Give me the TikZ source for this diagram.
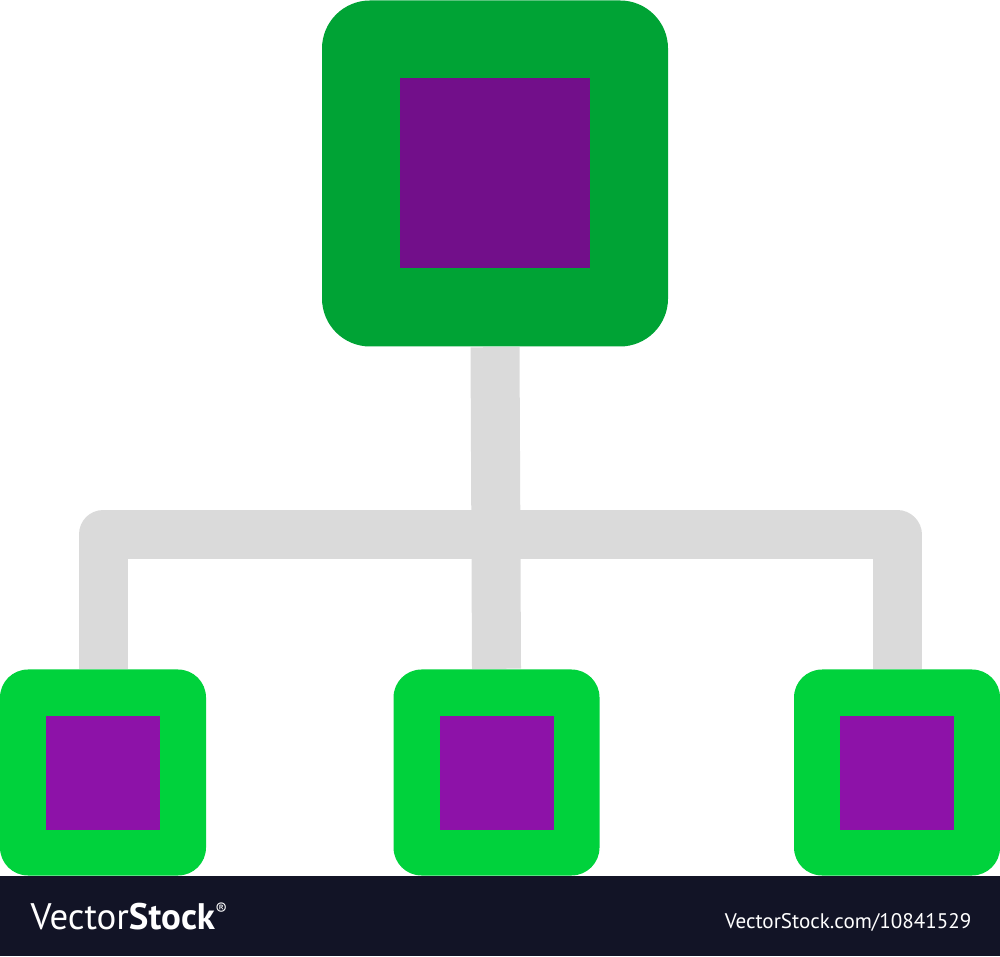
\documentclass[tikz,border=0pt]{standalone}
\usepackage{fontspec}
\setsansfont{PT Sans}
\tikzset{
  boss/.style={rectangle, rounded corners=0.48cm, fill=bossgreen, minimum size=3.46cm, inner sep=0pt},
  bosscore/.style={rectangle, fill=bosspurple, minimum size=1.9cm, inner sep=0pt},
  staff/.style={rectangle, rounded corners=0.28cm, fill=staffgreen, minimum size=2.06cm, inner sep=0pt},
  staffcore/.style={rectangle, fill=staffpurple, minimum size=1.14cm, inner sep=0pt},
  wire/.style={draw=wiregray, line width=0.49cm, line join=round},
}
\definecolor{bossgreen}{HTML}{00A335}
\definecolor{bosspurple}{HTML}{720F8A}
\definecolor{staffgreen}{HTML}{00D23C}
\definecolor{staffpurple}{HTML}{8D12A8}
\definecolor{wiregray}{HTML}{DADADA}
\definecolor{banner}{HTML}{121426}
\begin{document}
\begin{tikzpicture}
	\useasboundingbox (0,0) rectangle (10,9.56);
	\fill[banner] (0,0) rectangle (10,0.80);

	\node[boss] (top) at (4.95, 7.825) {};
	\node[bosscore] (top-in) at (top) {};
	\node[staff] (left) at (1.03, 1.835) {};
	\node[staffcore] (left-in) at (left) {};
	\node[staff] (mid) at (4.965, 1.835) {};
	\node[staffcore] (mid-in) at (mid) {};
	\node[staff] (right) at (8.97, 1.835) {};
	\node[staffcore] (right-in) at (right) {};
	\coordinate (bar) at (4.955, 4.215);

	\path[wire] (top.south) -- (mid.north);
	\path[wire] (left.north) |- (bar) -| (right.north);

	\node[anchor=base west, text=white, font=\sffamily\fontsize{10.5}{12}\selectfont, inner sep=0pt] (brand) at (0.30, 0.27)
		{Vector\textbf{Stock}\textsuperscript{\tiny\textregistered}};
	\node[anchor=base east, text=white, font=\sffamily\fontsize{6}{7}\selectfont, inner sep=0pt] (link) at (9.72, 0.28)
		{VectorStock.com/10841529};
\end{tikzpicture}
\end{document}
